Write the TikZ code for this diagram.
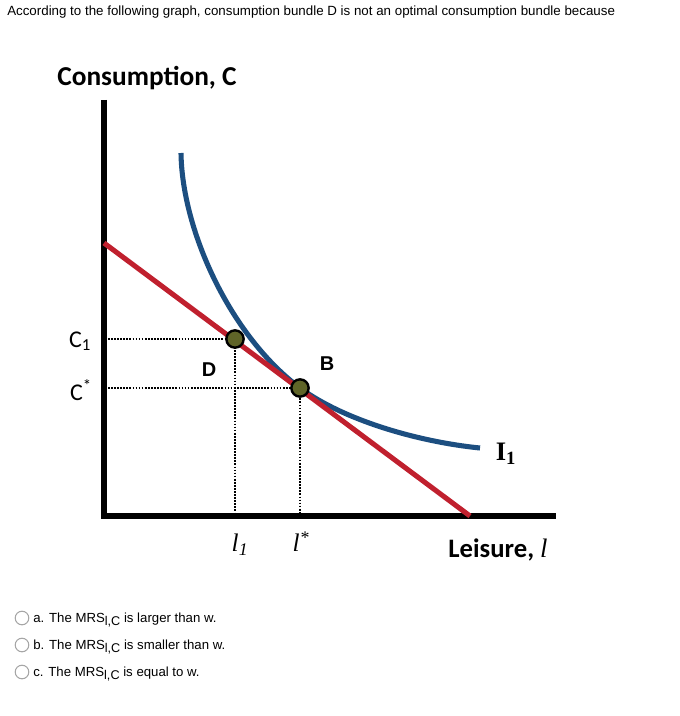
\documentclass[tikz,border=0pt]{standalone}
\usepackage{fontspec}
\setmainfont{Liberation Sans}
\newfontfamily\calfont{Carlito}
\newfontfamily\timesfont{Liberation Serif}
\usepackage{xcolor}
\definecolor{budgetred}{RGB}{192,32,46}
\definecolor{icblue}{RGB}{28,78,128}
\definecolor{dotolive}{RGB}{95,100,40}
\begin{document}
\begin{tikzpicture}[x=0.75pt,y=-0.75pt]
\useasboundingbox (0,0) rectangle (680,716);
\tikzset{guide/.style={densely dotted,line width=1.3pt},
  bundle/.style={circle,draw=black,line width=1.8pt,fill=dotolive,minimum size=13pt,inner sep=0pt},
  choice/.style={anchor=base west,font=\fontsize{9.9}{12}\selectfont,inner sep=0pt}}
\node[anchor=west,inner sep=0pt,font=\fontsize{10}{12}\selectfont] (title) at (7,12) {According to the following graph, consumption bundle D is not an optimal consumption bundle because};
% axes
\coordinate (top) at (104,100);
\coordinate (O) at (104,516);
\coordinate (right) at (556,516);
\draw[line width=3.8pt] (top) -- (O) -- (right);
\node[font=\calfont\bfseries\fontsize{20.5}{24}\selectfont] (ylab) at (147,78) {Consumption, C};
\node[font=\calfont\bfseries\fontsize{20}{24}\selectfont] (xlab) at (498,550) {Leisure, {\timesfont\mdseries\itshape l}};
% indifference curve and budget line
\coordinate (ictop) at (181,153);
\coordinate (icend) at (480,448);
\coordinate (D) at (235,339);
\coordinate (B) at (300,388);
\draw[icblue,line width=3.8pt] (ictop) .. controls (182,230) and (230,335.7) .. (B)
  .. controls (345,421) and (420,442) .. (icend);
\coordinate (bl) at (104,243);
\coordinate (br) at (470,516);
\draw[budgetred,line width=3.8pt] (bl) -- (br);
\node[font=\timesfont\bfseries\fontsize{20}{24}\selectfont] (I1) at (506,454) {I\textsubscript{1}};
% bundles
\coordinate (c1) at (108,339);
\coordinate (cs) at (108,388);
\draw[guide] (c1) -- (D) -- (D |- O);
\draw[guide] (cs) -- (B) -- (B |- O);
\node[bundle] at (D) {};
\node[bundle] at (B) {};
\node[font=\bfseries\fontsize{15}{18}\selectfont] (Dlab) at (209,370) {D};
\node[font=\bfseries\fontsize{15}{18}\selectfont] (Blab) at (327,364) {B};
\node[font=\calfont\fontsize{18}{20}\selectfont] (C1lab) at (80,341) {C\textsubscript{1}};
\node[font=\calfont\fontsize{18}{20}\selectfont] (Cslab) at (81,390) {C\textsuperscript{*}};
\node[font=\timesfont\itshape\fontsize{19}{22}\selectfont] (l1lab) at (240,545) {l\textsubscript{1}};
\node[font=\timesfont\itshape\fontsize{19}{22}\selectfont] (lslab) at (301,542) {l\textsuperscript{*}};
% answers
\foreach \y/\t/\r in {618/a/larger than, 645/b/smaller than, 672/c/equal to} {
  \draw[gray!70,line width=0.8pt] (22,\y) circle (6.8);
  \node[choice] (opt\t) at (33,\y+4.5) {\t. The MRS\raisebox{-0.5ex}{\fontsize{9.5}{11}\selectfont l,C} is \r\ w.};
}
\end{tikzpicture}
\end{document}
